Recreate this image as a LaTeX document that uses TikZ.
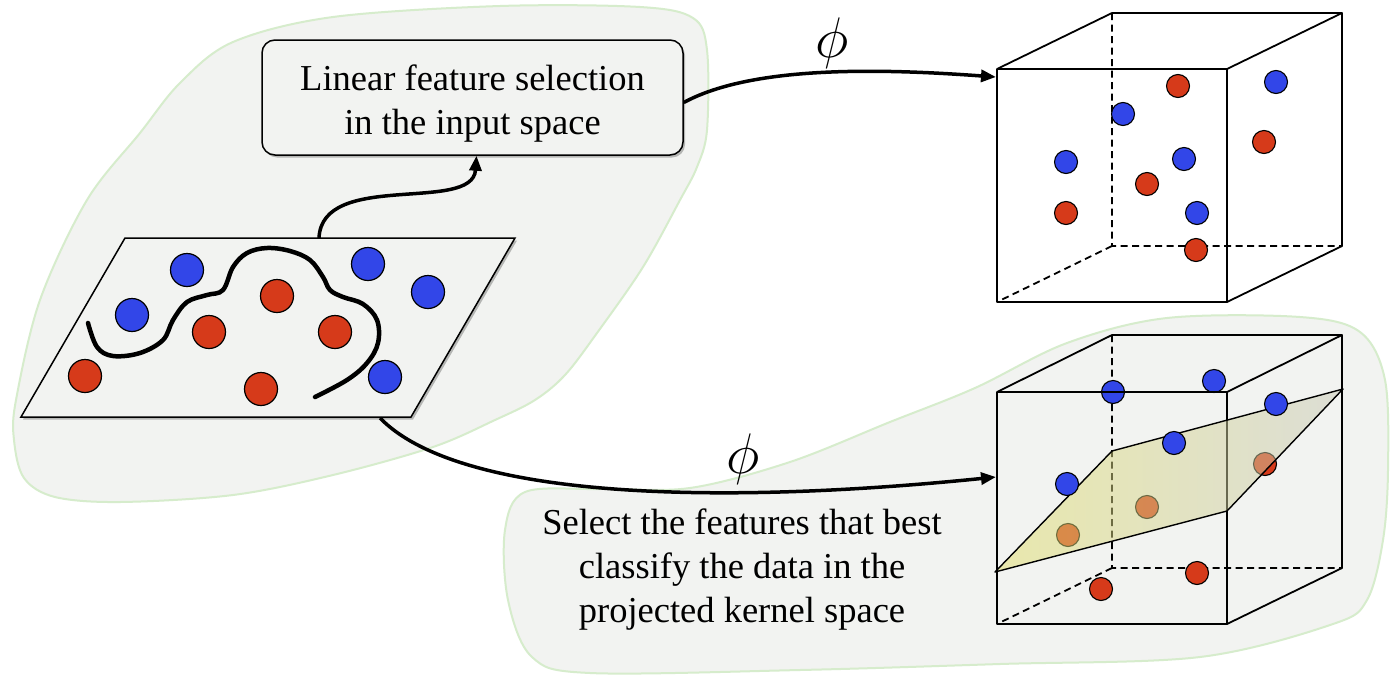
\documentclass[tikz,border=0pt]{standalone}
\usepackage{fix-cm}
\usepackage{fontspec}
\setmainfont{Liberation Serif}
\usetikzlibrary{arrows.meta,shadows}

\definecolor{dotblue}{RGB}{50,70,232}
\definecolor{dotred}{RGB}{214,58,26}
\definecolor{blobfill}{RGB}{242,243,241}
\definecolor{blobline}{RGB}{214,236,204}
\definecolor{planeL}{RGB}{225,222,105}
\definecolor{planeR}{RGB}{200,202,185}

\tikzset{
  blob/.style={fill=blobfill, draw=blobline, line width=2pt},
  bigdot/.style={circle, draw=black, line width=1.2pt, minimum size=33pt, inner sep=0pt},
  smalldot/.style={circle, draw=black, line width=1.1pt, minimum size=23pt, inner sep=0pt},
  cubeedge/.style={line width=1.8pt, line join=round},
  hidden/.style={cubeedge, dash pattern=on 7pt off 4.5pt},
  conn/.style={line width=3.5pt, -{Triangle[length=15pt,width=12pt]}},
  wave/.style={line width=4.5pt, line cap=round},
  bodytext/.style={font=\fontsize{36.5}{44}\selectfont, align=center, text depth=0pt},
  phitext/.style={font=\fontsize{44}{50}\selectfont, inner sep=0pt},
  softshadow/.style={drop shadow={shadow xshift=2pt, shadow yshift=-2.5pt, opacity=0.25, fill=black}}
}

\begin{document}
\begin{tikzpicture}[x=1pt,y=-1pt]
\useasboundingbox (0,0) rectangle (1395,683);
\fill[white] (0,0) rectangle (1395,683);

% ---- background blobs
\path[blob] plot[smooth cycle, tension=0.55] coordinates {
  (500,6) (640,7) (693,18) (707,50) (707,130) (697,167) (680,200) (643,267)
  (597,333) (565,375) (535,400) (495,420) (433,447) (333,475) (233,495)
  (120,502) (55,497) (24,478) (14,440) (16,400) (40,300) (87,200) (140,133)
  (180,83) (233,42) (333,17)};
\path[blob] plot[smooth cycle, tension=0.55] coordinates {
  (525,492) (600,489) (690,488) (790,462) (890,422) (975,388) (1067,343)
  (1167,318) (1300,317) (1360,332) (1385,380) (1388,470) (1383,540)
  (1367,600) (1333,624) (1200,657) (1000,664) (800,670) (590,673)
  (532,657) (508,600) (505,530)};

% ---- input space plane
\draw[fill=blobfill, line width=1.5pt, line join=miter, softshadow]
  (125,238) -- (515,238) -- (411,417) -- (21,417) -- cycle;
\coordinate (inTop) at (319,238);
\coordinate (inBot) at (380,418);

\node[bigdot, fill=dotblue] (p1) at (187,270) {};
\node[bigdot, fill=dotblue] (p2) at (132,315) {};
\node[bigdot, fill=dotred]  (p3) at (85,376) {};
\node[bigdot, fill=dotred]  (p4) at (209,332) {};
\node[bigdot, fill=dotred]  (p5) at (277,296) {};
\node[bigdot, fill=dotred]  (p6) at (335,332) {};
\node[bigdot, fill=dotred]  (p7) at (261,389) {};
\node[bigdot, fill=dotblue] (p8) at (368,264) {};
\node[bigdot, fill=dotblue] (p9) at (428,292) {};
\node[bigdot, fill=dotblue] (p10) at (385,377) {};

\draw[wave] plot[smooth, tension=0.6] coordinates {
  (88,323) (97,347) (113,356) (140,353) (163,340) (173,320) (187,302)
  (207,295) (223,290) (233,267) (247,253) (267,248) (290,251) (310,260)
  (323,277) (330,290) (343,297) (363,304) (377,320) (378,343) (367,363)
  (347,380) (315,397)};

% ---- box
\node[draw, line width=1.5pt, fill=blobfill, rounded corners=13pt,
      minimum width=421pt, minimum height=115pt, inner sep=0pt,
      bodytext, softshadow] (box) at (472.5,97.5)
  {\raisebox{-4pt}{Linear feature selection}\\\raisebox{-4pt}{in the input space}};

% ---- cube 1 (top)
\coordinate (A) at (997,69);  \coordinate (B) at (1227,69);
\coordinate (C) at (1227,302); \coordinate (D) at (997,302);
\coordinate (E) at (1112,13); \coordinate (F) at (1342,13);
\coordinate (G) at (1342,246); \coordinate (H) at (1112,246);
\coordinate (cubeAin) at (996,77);
\draw[hidden] (E) -- (H) -- (G) (H) -- (D);
\node[smalldot, fill=dotred]  (c1) at (1178,86) {};
\node[smalldot, fill=dotblue] (c2) at (1123,114) {};
\node[smalldot, fill=dotblue] (c3) at (1276,82) {};
\node[smalldot, fill=dotred]  (c4) at (1264,142) {};
\node[smalldot, fill=dotblue] (c5) at (1066,162) {};
\node[smalldot, fill=dotblue] (c6) at (1184,159) {};
\node[smalldot, fill=dotred]  (c7) at (1147,184) {};
\node[smalldot, fill=dotred]  (c8) at (1066,213) {};
\node[smalldot, fill=dotblue] (c9) at (1197,213) {};
\node[smalldot, fill=dotred]  (c10) at (1196,250) {};
\draw[cubeedge] (A) -- (B) -- (C) -- (D) -- cycle
  (A) -- (E) -- (F) -- (B) (F) -- (G) -- (C);

% ---- cube 2 (bottom)
\coordinate (A2) at (997,392);  \coordinate (B2) at (1227,392);
\coordinate (C2) at (1227,624); \coordinate (D2) at (997,624);
\coordinate (E2) at (1112,335); \coordinate (F2) at (1342,335);
\coordinate (G2) at (1342,568); \coordinate (H2) at (1112,568);
\coordinate (cubeBin) at (996,477);
\draw[hidden] (E2) -- (H2) -- (G2) (H2) -- (D2);
\draw[cubeedge] (A2) -- (B2) -- (C2) -- (D2) -- cycle
  (A2) -- (E2) -- (F2) -- (B2) (F2) -- (G2) -- (C2);
\node[smalldot, fill=dotred] (k6) at (1068,535) {};
\node[smalldot, fill=dotred] (k7) at (1147,507) {};
\node[smalldot, fill=dotred] (k8) at (1265,464) {};
\node[smalldot, fill=dotred] (k9) at (1197,573) {};
\node[smalldot, fill=dotred] (k10) at (1101,589) {};
\shade[left color=planeL, right color=planeR, fill opacity=0.5]
  (995,572) -- (1112,451) -- (1343,389) -- (1227,511) -- cycle;
\draw[line width=1.4pt, line join=round]
  (995,572) -- (1112,451) -- (1343,389) -- (1227,511) -- cycle;
\node[smalldot, fill=dotblue] (k1) at (1113,392) {};
\node[smalldot, fill=dotblue] (k2) at (1214,381) {};
\node[smalldot, fill=dotblue] (k3) at (1276,404) {};
\node[smalldot, fill=dotblue] (k4) at (1174,443) {};
\node[smalldot, fill=dotblue] (k5) at (1067,484) {};
\draw[line width=1.4pt] (A2) -- (B2);

% ---- connectors
\draw[conn] (inTop) .. controls +(3,-68) and +(-4,58) .. ([xshift=4pt]box.south);
\draw[conn] ([yshift=-5pt]box.east) .. controls +(70,-38) and +(-110,-8) .. (cubeAin);
\draw[conn] (inBot) .. controls +(80,82) and +(-275,28) .. (cubeBin);

\node[phitext] (phi1) at (832,43) {\scalebox{1.3}{$\phi$}};
\node[phitext] (phi2) at (743,459) {\scalebox{1.3}{$\phi$}};

% ---- bottom text
\node[bodytext, inner sep=0pt] (sel) at (742,566)
  {Select the features that best\\classify the data in the\\projected kernel space};
\end{tikzpicture}
\end{document}
